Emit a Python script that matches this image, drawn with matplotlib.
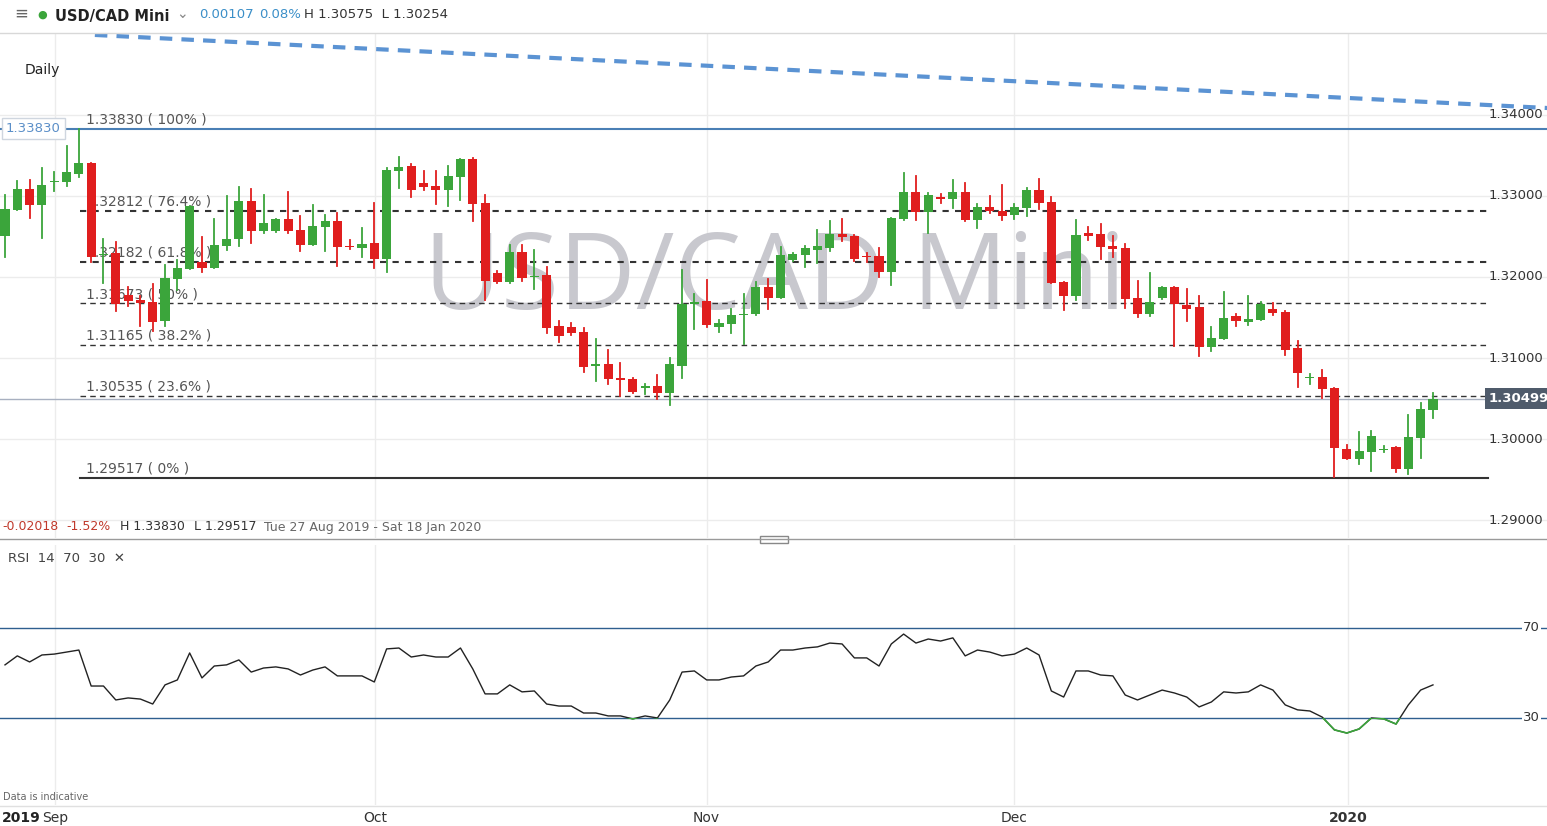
import matplotlib
matplotlib.use("Agg")
import matplotlib.pyplot as plt
from matplotlib.patches import Rectangle
import numpy as np

W, H = 1547, 826
# ---------------- data ----------------
opens = [1.3251,1.3283,1.3309,1.3289,1.3317,1.3317,1.3327,1.3341,1.3227,1.3230,1.3178,1.3172,1.3169,1.3146,1.3198,1.3210,1.3219,1.3211,1.3238,1.3247,
         1.3294,1.3257,1.3257,1.3272,1.3258,1.3240,1.3262,1.3269,1.3238,1.3236,1.3242,1.3222,1.3331,1.3337,1.3316,1.3312,1.3307,1.3323,1.3346,1.3291,
         1.3205,1.3194,1.3231,1.3200,1.3202,1.3140,1.3138,1.3132,1.3090,1.3093,1.3075,1.3074,1.3063,1.3065,1.3057,1.3090,1.3167,1.3170,1.3138,1.3142,
         1.3153,1.3154,1.3188,1.3174,1.3221,1.3227,1.3233,1.3236,1.3253,1.3251,1.3226,1.3226,1.3206,1.3272,1.3305,1.3280,1.3299,1.3296,1.3305,1.3270,
         1.3286,1.3281,1.3276,1.3285,1.3307,1.3293,1.3194,1.3177,1.3254,1.3253,1.3238,1.3236,1.3174,1.3154,1.3174,1.3188,1.3165,1.3163,1.3114,1.3123,
         1.3152,1.3144,1.3147,1.3160,1.3157,1.3112,1.3075,1.3077,1.3063,1.2988,1.2975,1.2984,1.2986,1.2990,1.2963,1.3001,1.3036]
highs = [1.3301,1.3319,1.3320,1.3335,1.3330,1.3362,1.3383,1.3341,1.3247,1.3243,1.3188,1.3177,1.3191,1.3215,1.3221,1.3288,1.3249,1.3272,1.3300,1.3311,
         1.3309,1.3301,1.3272,1.3305,1.3275,1.3289,1.3277,1.3279,1.3246,1.3260,1.3291,1.3335,1.3348,1.3340,1.3331,1.3331,1.3337,1.3346,1.3347,1.3301,
         1.3207,1.3240,1.3240,1.3233,1.3212,1.3146,1.3143,1.3137,1.3123,1.3110,1.3094,1.3075,1.3068,1.3079,1.3100,1.3209,1.3179,1.3196,1.3147,1.3160,
         1.3179,1.3194,1.3198,1.3237,1.3230,1.3238,1.3258,1.3269,1.3272,1.3252,1.3230,1.3236,1.3273,1.3328,1.3325,1.3304,1.3302,1.3320,1.3316,1.3290,
         1.3300,1.3314,1.3290,1.3310,1.3321,1.3299,1.3194,1.3270,1.3262,1.3265,1.3251,1.3241,1.3195,1.3205,1.3188,1.3188,1.3185,1.3177,1.3138,1.3181,
         1.3154,1.3177,1.3169,1.3168,1.3158,1.3121,1.3080,1.3085,1.3063,1.2993,1.3009,1.3010,1.2991,1.2990,1.3030,1.3044,1.3057]
lows = [1.3225,1.3283,1.3273,1.3248,1.3306,1.3312,1.3323,1.3219,1.3193,1.3158,1.3164,1.3140,1.3133,1.3140,1.3184,1.3210,1.3206,1.3211,1.3233,1.3238,
        1.3242,1.3254,1.3256,1.3254,1.3232,1.3240,1.3232,1.3214,1.3235,1.3225,1.3211,1.3206,1.3310,1.3299,1.3307,1.3290,1.3288,1.3295,1.3269,1.3172,
        1.3193,1.3193,1.3195,1.3185,1.3131,1.3120,1.3128,1.3083,1.3072,1.3068,1.3053,1.3057,1.3056,1.3049,1.3042,1.3075,1.3136,1.3138,1.3132,1.3131,
        1.3117,1.3153,1.3160,1.3174,1.3220,1.3212,1.3217,1.3232,1.3244,1.3220,1.3219,1.3200,1.3190,1.3270,1.3270,1.3254,1.3291,1.3285,1.3269,1.3260,
        1.3279,1.3270,1.3272,1.3275,1.3284,1.3192,1.3159,1.3172,1.3246,1.3222,1.3225,1.3162,1.3151,1.3152,1.3173,1.3115,1.3146,1.3102,1.3109,1.3123,
        1.3140,1.3141,1.3147,1.3153,1.3104,1.3064,1.3068,1.3051,1.2953,1.2975,1.2969,1.2960,1.2984,1.2959,1.2957,1.2977,1.3026]
closes = [1.3284,1.3309,1.3289,1.3314,1.3318,1.3330,1.3341,1.3225,1.3228,1.3167,1.3170,1.3168,1.3144,1.3199,1.3211,1.3288,1.3211,1.3240,1.3247,1.3294,
          1.3257,1.3267,1.3272,1.3257,1.3240,1.3263,1.3269,1.3237,1.3237,1.3241,1.3222,1.3332,1.3336,1.3307,1.3311,1.3307,1.3325,1.3346,1.3290,1.3195,
          1.3194,1.3231,1.3199,1.3201,1.3137,1.3127,1.3131,1.3089,1.3093,1.3074,1.3073,1.3058,1.3065,1.3057,1.3093,1.3167,1.3169,1.3141,1.3143,1.3153,
          1.3154,1.3188,1.3174,1.3227,1.3228,1.3236,1.3238,1.3253,1.3249,1.3222,1.3225,1.3206,1.3273,1.3305,1.3280,1.3301,1.3296,1.3305,1.3270,1.3286,
          1.3281,1.3275,1.3286,1.3307,1.3291,1.3193,1.3177,1.3252,1.3251,1.3237,1.3235,1.3173,1.3154,1.3169,1.3188,1.3167,1.3160,1.3114,1.3125,1.3149,
          1.3146,1.3148,1.3167,1.3156,1.3110,1.3081,1.3077,1.3062,1.2989,1.2975,1.2985,1.3004,1.2988,1.2963,1.3002,1.3037,1.30499]
rsi = [53.6,57.6,54.9,58.0,58.4,59.3,60.2,44.2,44.2,38.0,38.9,38.4,36.2,44.7,46.9,58.9,47.8,53.1,53.6,55.8,
       50.4,52.2,52.7,51.8,49.1,51.3,52.7,48.7,48.7,48.7,46.0,60.7,61.1,57.1,58.0,57.1,57.1,61.1,51.8,40.7,
       40.7,44.7,41.6,42.0,36.2,35.3,35.3,32.2,32.2,30.9,30.9,29.6,30.9,30.0,38.0,50.4,50.9,46.9,46.9,48.2,
       48.7,53.1,54.9,60.2,60.2,61.1,61.6,63.3,62.9,56.7,56.7,53.1,62.9,67.3,63.3,65.1,64.2,65.6,57.6,60.2,
       59.3,57.6,58.4,61.1,58.0,42.0,39.3,50.9,50.9,49.1,48.7,40.2,38.0,40.2,42.4,41.1,39.3,34.9,37.1,41.6,
       41.1,41.6,44.7,42.4,35.8,33.6,33.1,30.4,24.7,23.3,25.1,30.0,29.6,27.3,35.8,42.4,44.7]
fib_levels = [1.33830, 1.32812, 1.32182, 1.31673, 1.31165, 1.30535, 1.29517]
fib_names = ["100%", "76.4%", "61.8%", "50%", "38.2%", "23.6%", "0%"]
price_ticks = [1.29, 1.30, 1.31, 1.32, 1.33, 1.34]
month_labels = ["Sep", "Oct", "Nov", "Dec", "2020"]
month_pos = [4.06, 30.06, 57.0, 82.0, 109.1]
trend_x = [7.3, 125.3]
trend_y = [1.34988, 1.34086]
last_price = 1.30499
rsi_levels = [70, 30]

n = len(closes)
idx = np.arange(n)
GREEN, RED = "#3ba53b", "#e01e1e"

fig = plt.figure(figsize=(W/100, H/100), dpi=100)
def fx(x): return x / W
def fy(y): return 1 - y / H
def ix(x): return (x - 5) / 12.31

ax = fig.add_axes([0, fy(538), 1, fy(33) - fy(538)])
xmin, xmax = ix(0), ix(W)
ax.set_xlim(xmin, xmax)
ax.set_ylim(1.28778, 1.35012)
ax.axis("off")

for p in price_ticks:
    ax.axhline(p, color="#ececec", lw=1, zorder=0)
for m in month_pos:
    ax.axvline(m, color="#ececec", lw=1, zorder=0)

ax.text(ix(775), 1.3195, "USD/CAD Mini", ha="center", va="center", fontsize=76,
        color="#c8c8ce", zorder=1, family="Open Sans")

xf0, xf1 = ix(80), ix(1488)
for lv, nm in zip(fib_levels, fib_names):
    if nm == "100%":
        ax.plot([xmin, xmax], [lv, lv], color="#4a7fb5", lw=1.5, zorder=2)
    elif nm == "0%":
        ax.plot([xf0, xf1], [lv, lv], color="#333333", lw=1.5, zorder=2)
    else:
        lw = 1.5 if nm in ("76.4%", "61.8%") else 1.0
        ax.plot([xf0, xf1], [lv, lv], color="#333333", lw=lw, ls=(0, (3, 3)) if lw > 1 else (0, (4, 3)), zorder=2)
    ax.text(ix(86), lv + 0.0003, f"{lv:.5f} ( {nm} )", fontsize=10, color="#555555", va="bottom", zorder=3)

ax.axhline(last_price, color="#a8b0c0", lw=1, zorder=2)
ax.plot(trend_x, trend_y, color="#5b93d3", lw=3, ls=(0, (3, 2.2)), zorder=2)

for i in range(n):
    o, h, l, c = opens[i], highs[i], lows[i], closes[i]
    col = GREEN if c >= o else RED
    ax.plot([i, i], [l, h], color=col, lw=1.3, zorder=4)
    bh = max(abs(c - o), 0.00012)
    ax.add_patch(Rectangle((i - 0.37, min(o, c)), 0.74, bh, color=col, zorder=5, lw=0))

for p in price_ticks:
    ax.text(ix(1489), p, f"{p:.5f}", fontsize=9.5, color="#333333", va="center", zorder=6)
ax.text(ix(1489), last_price, f"{last_price:.5f}", fontsize=9.5, color="white", fontweight="bold",
        va="center", zorder=7, bbox=dict(boxstyle="square,pad=0.3", fc="#4f5b6b", ec="none"))
ax.text(ix(6), fib_levels[0], f"{fib_levels[0]:.5f}", fontsize=9.5, color="#5b8fc8", va="center",
        zorder=7, bbox=dict(boxstyle="square,pad=0.3", fc="white", ec="#cfd6df"))

ar = fig.add_axes([0, fy(805), 1, fy(545) - fy(805)])
ar.set_xlim(xmin, xmax)
ar.set_ylim(-8.7, 106.9)
ar.axis("off")
for m in month_pos:
    ar.axvline(m, color="#ececec", lw=1, zorder=0)
for lv in rsi_levels:
    ar.axhline(lv, color="#2f5f8f", lw=1, zorder=1)
    ar.text(ix(1523), lv, str(lv), fontsize=9.5, color="#333333", va="center", zorder=3,
            bbox=dict(boxstyle="square,pad=0.1", fc="white", ec="none"))
ar.plot(idx, rsi, color="#222222", lw=1, zorder=2)
gl, = ar.plot(idx, rsi, color="#3ba53b", lw=1.2, zorder=3)
gl.set_clip_path(Rectangle((xmin, -20), xmax - xmin, 50, transform=ar.transData))

fig.add_artist(plt.Line2D([0, 1], [fy(33), fy(33)], color="#d8d8d8", lw=1))
fig.add_artist(plt.Line2D([0, 1], [fy(539), fy(539)], color="#9a9a9a", lw=1))
fig.add_artist(Rectangle((fx(760), fy(543)), fx(28), fy(536)-fy(543), fc="white", ec="#888888", lw=1))
fig.add_artist(plt.Line2D([0, 1], [fy(806), fy(806)], color="#e0e0e0", lw=1))

fig.text(fx(14), fy(14), "≡", fontsize=12, color="#666666", va="center")
fig.text(fx(37), fy(15), "●", fontsize=8, color=GREEN, va="center")
fig.text(fx(55), fy(16), "USD/CAD Mini", fontsize=10.5, color="#222222", fontweight="bold", va="center")
fig.text(fx(176), fy(14), "⌄", fontsize=10, color="#888888", va="center")
fig.text(fx(199), fy(15), "0.00107", fontsize=9.5, color="#3b8fc8", va="center")
fig.text(fx(259), fy(15), "0.08%", fontsize=9.5, color="#3b8fc8", va="center")
fig.text(fx(304), fy(15), "H 1.30575  L 1.30254", fontsize=9.5, color="#333333", va="center")
fig.text(fx(25), fy(70), "Daily", fontsize=10, color="#222222", va="center")
fig.text(fx(2), fy(527), "-0.02018", fontsize=9, color="#c0392b", va="center")
fig.text(fx(66), fy(527), "-1.52%", fontsize=9, color="#c0392b", va="center")
fig.text(fx(120), fy(527), "H 1.33830", fontsize=9, color="#333333", va="center")
fig.text(fx(194), fy(527), "L 1.29517", fontsize=9, color="#333333", va="center")
fig.text(fx(264), fy(527), "Tue 27 Aug 2019 - Sat 18 Jan 2020", fontsize=9, color="#666666", va="center")
fig.text(fx(8), fy(558), "RSI  14  70  30  ✕", fontsize=9.5, color="#444444", va="center")
fig.text(fx(3), fy(797), "Data is indicative", fontsize=7, color="#666666", va="center")

fig.text(fx(2), fy(818), "2019", fontsize=10, color="#222222", fontweight="bold", va="center")
for lab, m in zip(month_labels, month_pos):
    x = 5 + m * 12.31
    fig.text(fx(x), fy(818), lab, fontsize=10, color="#333333", ha="center", va="center",
             fontweight="bold" if lab == "2020" else "normal")

fig.savefig("out.png", dpi=100, facecolor="white")
